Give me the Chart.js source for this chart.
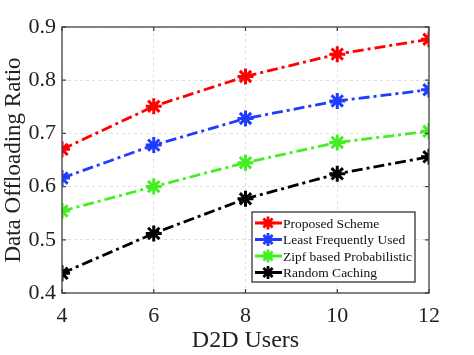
<!DOCTYPE html>
<html><head><meta charset="utf-8">
<script src="https://cdn.jsdelivr.net/npm/chart.js@4.4.0/dist/chart.umd.min.js"></script>
<style>html,body{margin:0;padding:0;background:#fff}#wrap{width:474px;height:355px}</style>
</head><body><div id="wrap"><canvas id="c" width="474" height="355"></canvas></div>
<script>
const users = [4, 6, 8, 10, 12];
const proposed = [0.670, 0.751, 0.807, 0.849, 0.877];
const lfu = [0.616, 0.678, 0.728, 0.761, 0.782];
const zipf = [0.554, 0.600, 0.645, 0.683, 0.704];
const randomC = [0.437, 0.512, 0.577, 0.624, 0.656];
const seriesNames = ['Proposed Scheme', 'Least Frequently Used', 'Zipf based Probabilistic', 'Random Caching'];
const colors = ['#ff0000', '#1f3cff', '#44ee22', '#000000'];
const yTicks = [0.4, 0.5, 0.6, 0.7, 0.8, 0.9];
const FONT = '"Liberation Serif","Times New Roman",serif';
const DASH = [11, 4, 3, 4];

const seriesVals = [proposed, lfu, zipf, randomC];
const datasets = seriesVals.map((v, i) => ({
  label: seriesNames[i],
  data: users.map((u, k) => ({x: u, y: v[k]})),
  borderColor: colors[i],
  backgroundColor: colors[i],
  borderWidth: 2.8,
  borderDash: DASH,
  pointStyle: 'star',
  pointRadius: 8,
  pointBorderWidth: 3,
  pointBorderColor: colors[i],
  fill: false,
  tension: 0
}));

const framePlugin = {
  id: 'frame',
  afterDatasetsDraw(chart) {
    const {ctx, chartArea: a, scales} = chart;
    ctx.save();
    ctx.strokeStyle = '#444';
    ctx.lineWidth = 1.3;
    ctx.setLineDash([]);
    ctx.strokeRect(a.left, a.top, a.right - a.left, a.bottom - a.top);
    const tl = 4;
    ctx.beginPath();
    users.forEach(u => {
      const x = scales.x.getPixelForValue(u);
      ctx.moveTo(x, a.bottom); ctx.lineTo(x, a.bottom - tl);
      ctx.moveTo(x, a.top); ctx.lineTo(x, a.top + tl);
    });
    yTicks.forEach(t => {
      const y = scales.y.getPixelForValue(t);
      ctx.moveTo(a.left, y); ctx.lineTo(a.left + tl, y);
      ctx.moveTo(a.right, y); ctx.lineTo(a.right - tl, y);
    });
    ctx.stroke();
    ctx.restore();
  },
  afterDraw(chart) {
    const {ctx, chartArea: a} = chart;
    const bx = a.left + 190, by = a.top + 185, bw = 163, bh = 70;
    ctx.save();
    ctx.fillStyle = '#fff';
    ctx.fillRect(bx, by, bw, bh);
    ctx.strokeStyle = '#222';
    ctx.lineWidth = 1.2;
    ctx.strokeRect(bx, by, bw, bh);
    const rowH = 16.5;
    chart.data.datasets.forEach((ds, i) => {
      const cy = by + 11 + i * rowH;
      ctx.strokeStyle = ds.borderColor;
      ctx.lineWidth = 2.8;
      ctx.setLineDash([9, 3, 3, 3]);
      ctx.beginPath();
      ctx.moveTo(bx + 3, cy); ctx.lineTo(bx + 30, cy);
      ctx.stroke();
      ctx.setLineDash([]);
      Chart.helpers.drawPoint(ctx, {pointStyle: 'star', radius: 6.5, borderWidth: 2.8}, bx + 16, cy);
      ctx.fillStyle = '#111';
      ctx.font = '13.5px ' + FONT;
      ctx.textBaseline = 'middle';
      ctx.fillText(ds.label, bx + 31, cy + 1);
    });
    ctx.restore();
  }
};

new Chart(document.getElementById('c'), {
  type: 'line',
  data: {datasets},
  options: {
    responsive: false,
    animation: false,
    events: [],
    layout: {padding: {top: 27, right: 45, left: 0, bottom: 0}},
    plugins: {legend: {display: false}, tooltip: {enabled: false}},
    scales: {
      x: {
        type: 'linear', min: 4, max: 12,
        afterBuildTicks(s) { s.ticks = users.map(v => ({value: v})); },
        afterFit(s) { s.height = 62; },
        border: {display: false, dash: [3, 3]},
        grid: {color: '#e0e0e0', lineWidth: 1, drawTicks: false},
        ticks: {color: '#222', font: {family: FONT, size: 22}, padding: 10, maxRotation: 0},
        title: {display: true, text: 'D2D Users', color: '#222', font: {family: FONT, size: 24}, padding: {top: 3, bottom: 0}}
      },
      y: {
        min: 0.4, max: 0.9,
        afterBuildTicks(s) { s.ticks = yTicks.map(v => ({value: v})); },
        afterFit(s) { s.width = 62; },
        border: {display: false, dash: [3, 3]},
        grid: {color: '#e0e0e0', lineWidth: 1, drawTicks: false},
        ticks: {color: '#222', font: {family: FONT, size: 22}, padding: 6, callback: v => v.toFixed(1)},
        title: {display: true, text: 'Data Offloading Ratio', color: '#222', font: {family: FONT, size: 23}, padding: {top: 0, bottom: 0}}
      }
    }
  },
  plugins: [framePlugin]
});
</script>
</body></html>
